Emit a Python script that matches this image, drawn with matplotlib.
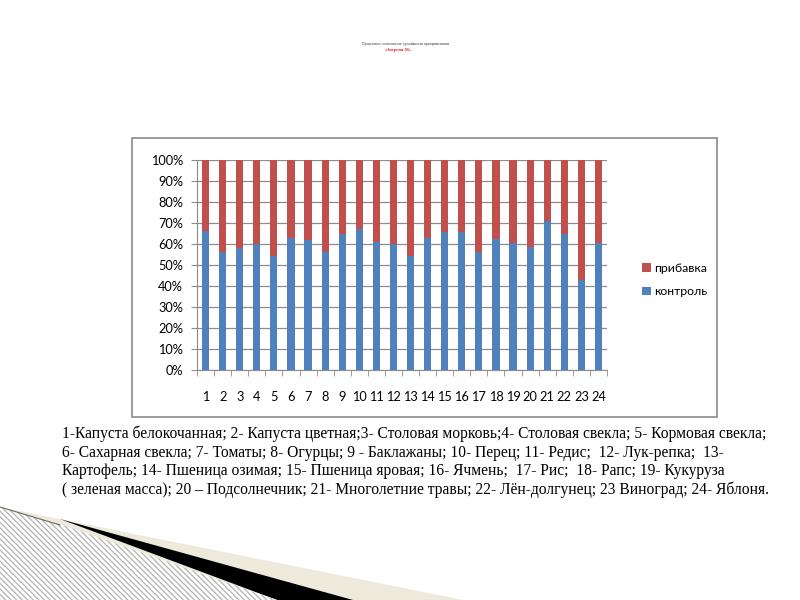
import matplotlib
matplotlib.use("Agg")
import matplotlib.pyplot as plt
from matplotlib.patches import Polygon, Rectangle
from matplotlib.ticker import PercentFormatter, MultipleLocator

# номера культур и доли (%) урожая
crops = list(range(1, 25))
kontrol = [66, 56, 58, 60, 54.5, 63, 62, 56, 65, 67, 61, 60,
           54.5, 63, 65.5, 65.5, 56, 62.5, 60.5, 58.5, 71, 65, 43, 60.5]
pribavka = [100 - v for v in kontrol]

title_1 = "Процентное соотношение урожайности при применении"
title_2 = "«Энергия-М»"

notes = [
    "1-Капуста белокочанная; 2- Капуста цветная;3- Столовая морковь;4- Столовая свекла; 5- Кормовая свекла;",
    "6- Сахарная свекла; 7- Томаты; 8- Огурцы; 9 - Баклажаны; 10- Перец; 11- Редис;  12- Лук-репка;  13-",
    "Картофель; 14- Пшеница озимая; 15- Пшеница яровая; 16- Ячмень;  17- Рис;  18- Рапс; 19- Кукуруза",
    "( зеленая масса); 20 – Подсолнечник; 21- Многолетние травы; 22- Лён-долгунец; 23 Виноград; 24- Яблоня.",
]

BLUE = "#4F81BD"
RED = "#C0504D"
W, H = 800, 600

fig = plt.figure(figsize=(8, 6), dpi=100)

# фоновый слой слайда в пикселях
bg = fig.add_axes([0, 0, 1, 1], zorder=0)
bg.set_xlim(0, W)
bg.set_ylim(H, 0)
bg.axis("off")
bg.add_patch(Polygon([(0, 507), (463, 600), (0, 600)], closed=True,
                     facecolor="#EEEADB", edgecolor="none"))
bg.add_patch(Polygon([(60, 519), (353, 600), (277, 600)], closed=True,
                     facecolor="black", edgecolor="none"))
bg.add_patch(Polygon([(0, 507), (60, 524), (277, 600), (0, 600)], closed=True,
                     facecolor="white", edgecolor="#B8B8B8", hatch="\\\\\\\\\\\\",
                     linewidth=0))
bg.plot([0, 60], [507, 525], color="#6b6b5a", lw=0.8)
bg.add_patch(Rectangle((132, 138), 585, 279, facecolor="white",
                       edgecolor="#8A8A8A", linewidth=1.2))

bg.text(405, 44, title_1, ha="center", va="center", fontsize=2.6,
        family="Liberation Serif", color="#333333")
bg.text(398, 50, title_2, ha="center", va="center", fontsize=3.2,
        family="Liberation Serif", color="#E02020", weight="bold")

for i, line in enumerate(notes):
    bg.text(62, 434 + i * 18.7, line, ha="left", va="center",
            fontsize=11.2, family="Liberation Serif", color="black")

# сама диаграмма
ax = fig.add_axes([197 / W, 1 - 370 / H, (607 - 197) / W, (370 - 160) / H],
                  zorder=2)
ax.patch.set_alpha(0)
ax.bar(crops, kontrol, width=0.42, color=BLUE, label="контроль", zorder=3)
ax.bar(crops, pribavka, width=0.42, bottom=kontrol, color=RED,
       label="прибавка", zorder=3)

ax.set_xlim(0.5, 24.5)
ax.set_ylim(0, 100)
ax.yaxis.set_major_locator(MultipleLocator(10))
ax.yaxis.set_major_formatter(PercentFormatter(decimals=0))
ax.grid(axis="y", color="#8C8C8C", linewidth=0.9, zorder=0)
ax.set_axisbelow(True)
for s in ["top", "right"]:
    ax.spines[s].set_visible(False)
for s in ["left", "bottom"]:
    ax.spines[s].set_color("#8C8C8C")

ax.set_xticks(crops)
ax.set_xticklabels([str(c) for c in crops])
ax.set_xticks([c + 0.5 for c in range(0, 25)], minor=True)
ax.tick_params(axis="x", which="major", length=0, pad=15, labelsize=9.2)
ax.tick_params(axis="x", which="minor", length=4, color="#8C8C8C")
ax.tick_params(axis="y", length=4, color="#8C8C8C", labelsize=9.2, pad=6)
for lab in ax.get_xticklabels() + ax.get_yticklabels():
    lab.set_family("Lato")

h, l = ax.get_legend_handles_labels()
leg = ax.legend(h[::-1], l[::-1], loc="center left",
                bbox_to_anchor=(631 / W, 1 - 280 / H),
                bbox_transform=fig.transFigure, frameon=False,
                handlelength=0.7, handleheight=0.7, handletextpad=0.3,
                labelspacing=1.0, prop={"family": "Lato", "size": 8.8})

fig.savefig("out.png", dpi=100)
